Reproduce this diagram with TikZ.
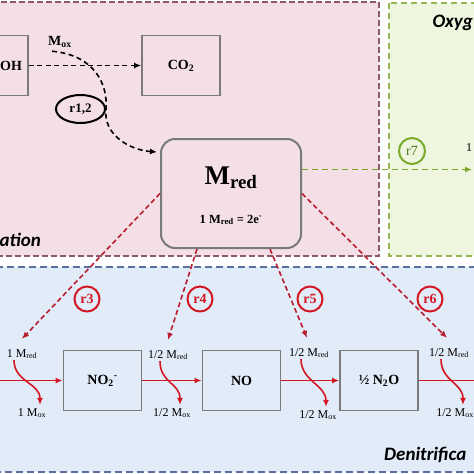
\documentclass[tikz,border=0pt]{standalone}
\usepackage{fontspec}
\setmainfont{Liberation Serif}
\newfontfamily\headfont{Carlito}
\usetikzlibrary{arrows.meta,calc,shapes.geometric}
\definecolor{pinkbg}{RGB}{243,223,229}
\definecolor{pinkline}{RGB}{140,88,110}
\definecolor{greenbg}{RGB}{238,246,223}
\definecolor{greenline}{RGB}{146,184,84}
\definecolor{bluebg}{RGB}{226,235,248}
\definecolor{blueline}{RGB}{88,112,160}
\definecolor{rxn}{RGB}{210,24,36}
\definecolor{rxndark}{RGB}{186,28,48}
\definecolor{boxgrey}{RGB}{122,122,122}
\definecolor{oxgreen}{RGB}{122,170,42}
\newcommand{\Mred}{M\textsubscript{red}}
\newcommand{\Mox}{M\textsubscript{ox}}
\begin{document}
\begin{tikzpicture}[x=1pt,y=-1pt,
    box/.style={draw=boxgrey,line width=1.8pt,minimum width=78pt,minimum height=60pt,
      font=\fontsize{14}{16}\selectfont\bfseries},
    rcirc/.style={circle,draw=rxn,line width=2pt,minimum size=25pt,inner sep=0pt,
      text=rxn,font=\fontsize{14}{16}\selectfont\bfseries},
    lbl/.style={font=\fontsize{12}{14}\selectfont,inner sep=1pt},
    head/.style={font=\headfont\fontsize{19}{22}\selectfont\bfseries\itshape,inner sep=0pt},
    blackdash/.style={line width=1.6pt,dash pattern=on 5pt off 3.5pt,-{Latex[length=7pt,width=6pt]}},
    reddash/.style={draw=rxndark,line width=1.6pt,dash pattern=on 5pt off 3pt,-{Latex[length=7pt,width=6pt]}},
    redflow/.style={draw=rxn,line width=1.8pt,-{Latex[length=7pt,width=6pt]}},
    sideflow/.style={draw=rxn,line width=1.6pt,-{Latex[length=7pt,width=6pt]}}]
  \useasboundingbox (0,0) rectangle (474,474);
  \clip (0,0) rectangle (474,474);
  \draw[fill=pinkbg,draw=pinkline,line width=2.2pt,dash pattern=on 6pt off 3pt] (-10,2) rectangle (379,256);
  \draw[fill=greenbg,draw=greenline,line width=1.2pt,dash pattern=on 6pt off 4pt] (389,3) rectangle (490,256);
  \draw[fill=bluebg,draw=blueline,line width=1.6pt,dash pattern=on 7pt off 4pt] (-10,267) rectangle (490,472);

  \node[box,minimum width=68pt] (meoh) at (-6,65.5) {\hspace*{34pt}OH};
  \node[box] (co2) at (181,65.5) {CO\textsubscript{2}};
  \node[font=\fontsize{14}{16}\selectfont\bfseries] (mox) at (60,42) {\Mox};
  \node[ellipse,draw,line width=2pt,minimum width=49pt,minimum height=28pt,inner sep=0pt,
    font=\fontsize{13}{15}\selectfont\bfseries] (r12) at (80.5,109) {r1,2};
  \node[draw=boxgrey,line width=2pt,rounded corners=14pt,minimum width=140pt,
    minimum height=109pt] (mred) at (231,193.5) {};
  \node[anchor=base,font=\fontsize{27}{29}\selectfont\bfseries] (mredtxt) at (231,184) {\Mred};
  \node[anchor=base,font=\fontsize{12.5}{14}\selectfont\bfseries] (mredeq) at (231,223)
    {1 \Mred{} = 2e\textsuperscript{-}};

  \draw[blackdash] (meoh) -- (co2);
  \draw[blackdash] ($(mox.south)+(-8,0)$) .. controls (95,55) and (108,85) .. (r12.east)
    .. controls (103,135) and (130,150) .. ($(mred.north west)+(-3,14)$);

  \coordinate (oxend) at (472,169.5);
  \draw[draw=oxgreen,line width=1.8pt,dash pattern=on 6pt off 4pt,-{Latex[length=7pt,width=6pt]}]
    ($(mred.east)+(0,-24)$) -- (oxend);
  \node[circle,draw=oxgreen,line width=2pt,minimum size=26pt,inner sep=0pt,text=oxgreen!70!black,
    font=\fontsize{14}{16}\selectfont] (r7) at (412,151) {r7};
  \node[lbl] (one) at (469,148) {1};

  \node[box] (no2) at (102.5,380.5) {NO\textsubscript{2}\textsuperscript{-}};
  \node[box] (no) at (241.5,380.5) {NO};
  \node[box] (n2o) at (379,380.5) {½ N\textsubscript{2}O};
  \coordinate (inflow) at (0,380.5);
  \coordinate (outflow) at (484,380.5);
  \draw[redflow] (inflow) -- (no2);
  \draw[redflow] (no2) -- (no);
  \draw[redflow] (no) -- (n2o);
  \draw[redflow] (n2o) -- (outflow);

  \begin{scope}[every node/.style={lbl}]
    \node (lr1) at (22,354) {1 \Mred};
    \node (lo1) at (32,413) {1 \Mox};
    \node (lr2) at (168,355) {1/2 \Mred};
    \node (lo2) at (172,413) {1/2 \Mox};
    \node (lr3) at (309,353) {1/2 \Mred};
    \node (lo3) at (318,415) {1/2 \Mox};
    \node (lr4) at (449,353) {1/2 \Mred};
    \node (lo4) at (455,413) {1/2 \Mox};
  \end{scope}
  \foreach \i in {1,...,4}
    \draw[sideflow] ($(lr\i.south)+(-8,0)$) .. controls ($(lr\i.south)+(-8,22)$)
      and ($(lo\i.north)+(8,-24)$) .. ($(lo\i.north)+(8,-2)$);

  \node[rcirc] (r3) at (87,299) {r3};
  \node[rcirc] (r4) at (200,299) {r4};
  \node[rcirc] (r5) at (310,299) {r5};
  \node[rcirc] (r6) at (430,299) {r6};
  \draw[reddash] (mred.west) -- ($(lr1.north)+(0,-9)$);
  \draw[reddash] ($(mred.south)+(-34,0)$) -- ($(lr2.north)+(0,-9)$);
  \draw[reddash] ($(mred.south)+(39,0)$) -- ($(lr3.north)+(-2,-9)$);
  \draw[reddash] (mred.east) -- ($(lr4.north)+(-2,-9)$);

  \node[head,anchor=east] (oxidtxt) at (41,240) {ation};
  \node[head,anchor=east] (oxytxt) at (473,23) {Oxyg};
  \node[head,anchor=west] (denitxt) at (384,455) {Denitrifica};
\end{tikzpicture}
\end{document}
